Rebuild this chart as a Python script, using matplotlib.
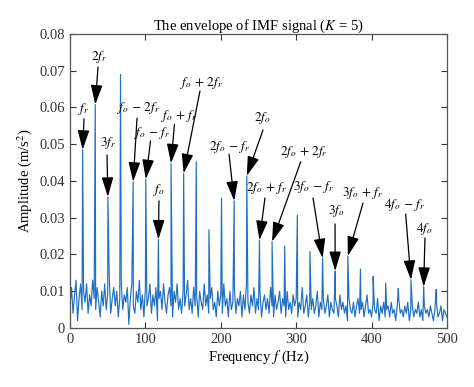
import numpy as np
import matplotlib
matplotlib.use("Agg")
import matplotlib.pyplot as plt

# ---------------- data ----------------
# background noise of the envelope spectrum, every 2 Hz from 0 to 500 Hz
noise_freq = np.arange(0, 501, 2)
noise_amp = [
    0.006, 0.011, 0.004, 0.009, 0.013, 0.002, 0.008, 0.012, 0.005, 0.010,
    0.007, 0.012, 0.004, 0.009, 0.006, 0.013, 0.008, 0.005, 0.011, 0.007,
    0.003, 0.010, 0.006, 0.012, 0.005, 0.009, 0.014, 0.004, 0.008, 0.011,
    0.006, 0.010, 0.003, 0.008, 0.012, 0.005, 0.009, 0.007, 0.011, 0.001,
    0.008, 0.012, 0.006, 0.004, 0.010, 0.007, 0.013, 0.005, 0.009, 0.003,
    0.011, 0.006, 0.008, 0.012, 0.004, 0.009, 0.006, 0.011, 0.002, 0.008,
    0.010, 0.005, 0.012, 0.007, 0.004, 0.009, 0.011, 0.006, 0.003, 0.010,
    0.007, 0.012, 0.005, 0.008, 0.004, 0.010, 0.006, 0.009, 0.013, 0.005,
    0.008, 0.004, 0.011, 0.006, 0.009, 0.003, 0.010, 0.007, 0.005, 0.012,
    0.006, 0.009, 0.004, 0.008, 0.011, 0.005, 0.007, 0.003, 0.010, 0.006,
    0.009, 0.004, 0.012, 0.006, 0.008, 0.003, 0.010, 0.005, 0.007, 0.011,
    0.004, 0.008, 0.006, 0.010, 0.003, 0.009, 0.005, 0.012, 0.007, 0.004,
    0.009, 0.006, 0.011, 0.004, 0.008, 0.005, 0.010, 0.003, 0.007, 0.009,
    0.005, 0.008, 0.004, 0.011, 0.006, 0.003, 0.009, 0.005, 0.007, 0.010,
    0.004, 0.008, 0.006, 0.003, 0.010, 0.005, 0.007, 0.004, 0.009, 0.006,
    0.008, 0.003, 0.007, 0.005, 0.011, 0.004, 0.006, 0.009, 0.003, 0.007,
    0.005, 0.008, 0.004, 0.006, 0.010, 0.003, 0.007, 0.005, 0.008, 0.004,
    0.006, 0.009, 0.003, 0.007, 0.005, 0.004, 0.008, 0.006, 0.003, 0.009,
    0.005, 0.007, 0.004, 0.006, 0.002, 0.008, 0.005, 0.004, 0.007, 0.003,
    0.006, 0.008, 0.004, 0.005, 0.007, 0.003, 0.006, 0.009, 0.004, 0.005,
    0.003, 0.007, 0.005, 0.004, 0.008, 0.002, 0.006, 0.004, 0.007, 0.003,
    0.005, 0.006, 0.003, 0.007, 0.004, 0.005, 0.002, 0.006, 0.008, 0.004,
    0.005, 0.003, 0.006, 0.004, 0.007, 0.002, 0.005, 0.006, 0.003, 0.005,
    0.004, 0.007, 0.003, 0.005, 0.002, 0.006, 0.004, 0.005, 0.003, 0.006,
    0.004, 0.002, 0.005, 0.007, 0.003, 0.004, 0.006, 0.002, 0.005, 0.004,
    0.003,
]

# spectral peaks (Hz) and their amplitudes (m/s^2)
peak_freq = [16.75, 33.5, 50.25, 67.0, 83.75, 100.5, 117.25, 134.0, 150.75,
             167.5, 184.25, 201.0, 217.75, 234.5, 251.25, 268.0, 284.75,
             301.5, 318.25, 335.0, 351.75, 368.5, 385.25, 402.0, 418.75,
             435.5, 452.25, 469.0, 485.75]
peak_amp = [0.0485, 0.0608, 0.0357, 0.0690, 0.0398, 0.0405, 0.0241, 0.0448,
            0.0421, 0.0453, 0.0267, 0.0353, 0.0346, 0.0414, 0.0239, 0.0235,
            0.0223, 0.0307, 0.0208, 0.0190, 0.0155, 0.0196, 0.0160, 0.0140,
            0.0122, 0.0108, 0.0131, 0.0112, 0.0105]

# annotations: label, index of the peak it points to
labels = [r"$f_r$", r"$2f_r$", r"$3f_r$", r"$f_o\,-\,2f_r$", r"$f_o\,-\,f_r$",
          r"$f_o$", r"$f_o\,+\,f_r$", r"$f_o\,+\,2f_r$", r"$2f_o\,-\,f_r$",
          r"$2f_o$", r"$2f_o\,+\,2f_r$", r"$2f_o\,+\,f_r$", r"$3f_o\,-\,f_r$",
          r"$3f_o$", r"$3f_o\,+\,f_r$", r"$4f_o\,-\,f_r$", r"$4f_o$"]
label_peak = [0, 1, 2, 4, 5, 6, 7, 8, 12, 13, 15, 14, 19, 20, 21, 26, 27]
# label text positions (x, y) and arrow tail positions
label_pos = [(18.6, 0.0596), (38.5, 0.0737), (50.4, 0.0503), (91.5, 0.0598),
             (108.8, 0.0531), (118.0, 0.0375), (144.5, 0.0578),
             (175.1, 0.0667), (212.2, 0.0492), (254.6, 0.0571),
             (310.3, 0.0479), (261.3, 0.0381), (323.6, 0.0384),
             (352.8, 0.0318), (388.6, 0.0367), (444.3, 0.0335),
             (469.5, 0.0269)]
tail_pos = [(18.6, 0.0569), (37.1, 0.0710), (49.1, 0.0471), (88.9, 0.0571),
            (106.8, 0.0509), (118.0, 0.0346), (138.5, 0.0554),
            (172.4, 0.0645), (210.9, 0.0473), (256.0, 0.0539),
            (306.0, 0.0452), (258.6, 0.0354), (322.3, 0.0354),
            (351.5, 0.0283), (388.6, 0.0340), (445.2, 0.0310),
            (470.8, 0.0245)]

x_ticks = [0, 100, 200, 300, 400, 500]
y_ticks = [0, 0.01, 0.02, 0.03, 0.04, 0.05, 0.06, 0.07, 0.08]
y_ticklabels = ["0", "0.01", "0.02", "0.03", "0.04", "0.05", "0.06", "0.07", "0.08"]

# ---------------- plot ----------------
plt.rcParams["font.family"] = ["Liberation Serif", "DejaVu Serif"]
plt.rcParams["mathtext.fontset"] = "stix"

freq = np.concatenate([noise_freq, peak_freq])
amp = np.concatenate([noise_amp, peak_amp])
order = np.argsort(freq, kind="stable")
freq, amp = freq[order], amp[order]

fig = plt.figure(figsize=(4.74, 3.87), dpi=100)
ax = fig.add_axes([0.1477, 0.1525, 0.7953, 0.7597])
ax.plot(freq, amp, color="#1f6fc4", lw=0.85)

ax.set_xlim(0, 500)
ax.set_ylim(0, 0.08)
ax.set_xticks(x_ticks)
ax.set_yticks(y_ticks)
ax.set_yticklabels(y_ticklabels)
ax.tick_params(direction="in", top=True, right=True, labelsize=10.5,
               colors="#333333", length=4, width=0.8)
for sp in ax.spines.values():
    sp.set_color("#555555")
    sp.set_linewidth(0.9)

ax.set_title(r"The envelope of IMF signal ($K$ = 5)", fontsize=10.5, pad=3)
ax.set_xlabel(r"Frequency $f$ (Hz)", fontsize=10.5, labelpad=2)
ax.set_ylabel(r"Amplitude (m/s$^2$)", fontsize=10.5, labelpad=4)

for lab, idx, (tx, ty), (ax0, ay0) in zip(labels, label_peak, label_pos, tail_pos):
    ax.text(tx, ty, lab, ha="center", va="center", fontsize=9.5)
    ax.annotate("", xy=(peak_freq[idx], peak_amp[idx]), xytext=(ax0, ay0),
                arrowprops=dict(arrowstyle="-|>,head_length=1.0,head_width=0.3",
                                mutation_scale=12, color="black", lw=0.9,
                                shrinkA=0, shrinkB=0))

fig.savefig("out.png", dpi=100)
